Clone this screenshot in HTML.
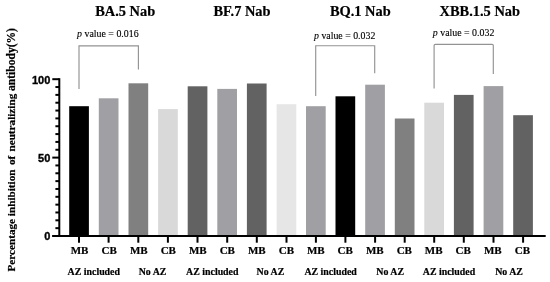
<!DOCTYPE html>
<html><head><meta charset="utf-8"><title>chart</title>
<style>
html,body{margin:0;padding:0;background:#fff;}
svg{display:block}
.t{font-family:"Liberation Serif",serif;font-weight:bold;font-size:14.4px;fill:#000;stroke:#000;stroke-width:0.2px}
.p{font-family:"Liberation Serif",serif;font-size:9.9px;fill:#000;stroke:#000;stroke-width:0.12px}
.x{font-family:"Liberation Serif",serif;font-weight:bold;font-size:11px;fill:#000;stroke:#000;stroke-width:0.2px}
.g{font-family:"Liberation Serif",serif;font-weight:bold;font-size:9.9px;fill:#000;stroke:#000;stroke-width:0.2px}
.y{font-family:"Liberation Sans",sans-serif;font-weight:bold;font-size:11px;fill:#000;stroke:#000;stroke-width:0.35px}
.yl{font-family:"Liberation Serif",serif;font-weight:bold;font-size:11.2px;fill:#000;stroke:#000;stroke-width:0.2px}
</style></head><body>
<svg width="550" height="282" viewBox="0 0 550 282">
<rect width="550" height="282" fill="#fff"/>
<rect x="69.2" y="106.2" width="19.7" height="129.8" fill="#000000"/>
<rect x="98.8" y="98.3" width="19.7" height="137.7" fill="#a0a0a4"/>
<rect x="128.5" y="83.3" width="19.7" height="152.7" fill="#808080"/>
<rect x="158.1" y="109.1" width="19.7" height="126.9" fill="#d9d9d9"/>
<rect x="187.7" y="86.3" width="19.7" height="149.7" fill="#626262"/>
<rect x="217.3" y="88.9" width="19.7" height="147.1" fill="#a0a0a4"/>
<rect x="246.9" y="83.5" width="19.7" height="152.5" fill="#626262"/>
<rect x="276.6" y="104.2" width="19.7" height="131.8" fill="#e6e6e6"/>
<rect x="306.0" y="106.2" width="19.7" height="129.8" fill="#a0a0a4"/>
<rect x="335.5" y="96.3" width="19.7" height="139.7" fill="#000000"/>
<rect x="365.2" y="84.7" width="19.7" height="151.3" fill="#a0a0a4"/>
<rect x="394.8" y="118.5" width="19.7" height="117.5" fill="#808080"/>
<rect x="424.3" y="102.7" width="19.7" height="133.3" fill="#d9d9d9"/>
<rect x="453.9" y="94.9" width="19.7" height="141.1" fill="#626262"/>
<rect x="483.6" y="86.1" width="19.7" height="149.9" fill="#a0a0a4"/>
<rect x="513.2" y="115.2" width="19.7" height="120.8" fill="#626262"/>
<g stroke="#000" stroke-width="2" fill="none">
<path d="M59.3 78.2V237.0"/>
<path d="M52.3 236.0H545.7"/>
<path d="M52.3 236.00H59.3"/>
<path d="M55.4 228.16H59.3"/>
<path d="M55.4 220.32H59.3"/>
<path d="M55.4 212.48H59.3"/>
<path d="M55.4 204.64H59.3"/>
<path d="M55.4 196.80H59.3"/>
<path d="M55.4 188.96H59.3"/>
<path d="M55.4 181.12H59.3"/>
<path d="M55.4 173.28H59.3"/>
<path d="M55.4 165.44H59.3"/>
<path d="M52.3 157.60H59.3"/>
<path d="M55.4 149.76H59.3"/>
<path d="M55.4 141.92H59.3"/>
<path d="M55.4 134.08H59.3"/>
<path d="M55.4 126.24H59.3"/>
<path d="M55.4 118.40H59.3"/>
<path d="M55.4 110.56H59.3"/>
<path d="M55.4 102.72H59.3"/>
<path d="M55.4 94.88H59.3"/>
<path d="M55.4 87.04H59.3"/>
<path d="M52.3 79.20H59.3"/>
<path d="M79.0 236.0V242.7"/>
<path d="M108.6 236.0V242.7"/>
<path d="M138.3 236.0V242.7"/>
<path d="M167.9 236.0V242.7"/>
<path d="M197.5 236.0V242.7"/>
<path d="M227.2 236.0V242.7"/>
<path d="M256.8 236.0V242.7"/>
<path d="M286.5 236.0V242.7"/>
<path d="M315.9 236.0V242.7"/>
<path d="M345.4 236.0V242.7"/>
<path d="M375.1 236.0V242.7"/>
<path d="M404.7 236.0V242.7"/>
<path d="M434.2 236.0V242.7"/>
<path d="M463.8 236.0V242.7"/>
<path d="M493.5 236.0V242.7"/>
<path d="M523.1 236.0V242.7"/>
</g>
<g stroke="#939393" stroke-width="1.15" fill="none">
<path d="M79.0 88.9V45.8H138.4V69.5"/>
<path d="M315.7 96V45.7H374.7V73.3"/>
<path d="M434.1 88.6V45.6Q434.1 44.4 435.3 44.4H492.1Q493.3 44.4 493.3 45.6V74.1"/>
</g>
<text class="t" x="125.2" y="15.9" text-anchor="middle">BA.5 Nab</text>
<text class="t" x="242" y="15.9" text-anchor="middle">BF.7 Nab</text>
<text class="t" x="360.3" y="15.9" text-anchor="middle">BQ.1 Nab</text>
<text class="t" x="479.8" y="15.9" text-anchor="middle">XBB.1.5 Nab</text>
<text class="p" x="77.1" y="36.5"><tspan font-style="italic">p</tspan> value = 0.016</text>
<text class="p" style="font-size:9.85px" x="314" y="39.4"><tspan font-style="italic">p</tspan> value = 0.032</text>
<text class="p" x="432.8" y="36.4"><tspan font-style="italic">p</tspan> value = 0.032</text>
<text class="y" x="50.3" y="83.7" text-anchor="end">100</text>
<text class="y" x="50.3" y="162.1" text-anchor="end">50</text>
<text class="y" x="50.3" y="240.4" text-anchor="end">0</text>
<text class="x" x="79.6" y="254.0" text-anchor="middle">MB</text>
<text class="x" x="109.2" y="254.0" text-anchor="middle">CB</text>
<text class="x" x="138.8" y="254.0" text-anchor="middle">MB</text>
<text class="x" x="168.3" y="254.0" text-anchor="middle">CB</text>
<text class="x" x="197.8" y="254.0" text-anchor="middle">MB</text>
<text class="x" x="227.3" y="254.0" text-anchor="middle">CB</text>
<text class="x" x="256.8" y="254.0" text-anchor="middle">MB</text>
<text class="x" x="286.4" y="254.0" text-anchor="middle">CB</text>
<text class="x" x="315.8" y="254.0" text-anchor="middle">MB</text>
<text class="x" x="345.2" y="254.0" text-anchor="middle">CB</text>
<text class="x" x="374.8" y="254.0" text-anchor="middle">MB</text>
<text class="x" x="404.3" y="254.0" text-anchor="middle">CB</text>
<text class="x" x="433.7" y="254.0" text-anchor="middle">MB</text>
<text class="x" x="463.2" y="254.0" text-anchor="middle">CB</text>
<text class="x" x="492.8" y="254.0" text-anchor="middle">MB</text>
<text class="x" x="522.4" y="254.0" text-anchor="middle">CB</text>
<text class="g" x="93.8" y="274.9" text-anchor="middle">AZ included</text>
<text class="g" x="152.5" y="274.9" text-anchor="middle">No AZ</text>
<text class="g" x="212.3" y="274.9" text-anchor="middle">AZ included</text>
<text class="g" x="270.4" y="274.9" text-anchor="middle">No AZ</text>
<text class="g" x="330.6" y="274.9" text-anchor="middle">AZ included</text>
<text class="g" x="390.2" y="274.9" text-anchor="middle">No AZ</text>
<text class="g" x="449.0" y="274.9" text-anchor="middle">AZ included</text>
<text class="g" x="509.0" y="274.9" text-anchor="middle">No AZ</text>
<text class="yl" transform="translate(15.2 0) rotate(-90)"><tspan x="-271.55" y="0">Percentage </tspan><tspan x="-216.15" y="0">inhibition </tspan><tspan x="-165.05" y="0">of </tspan><tspan x="-151.55" y="0">neutralizing </tspan><tspan x="-90.95" y="0" style="font-size:11.55px">antibody(%)</tspan></text>
</svg></body></html>
